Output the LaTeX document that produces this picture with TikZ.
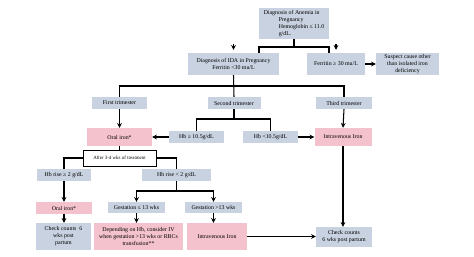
\documentclass[tikz,border=0pt]{standalone}
\usepackage{fontspec}
\setmainfont{Liberation Serif}
\usetikzlibrary{arrows.meta,calc}
\definecolor{boxblue}{RGB}{200,210,224}
\definecolor{boxpink}{RGB}{244,194,204}
\begin{document}
\begin{tikzpicture}[x=0.03cm,y=-0.03cm,
  every node/.style={font=\fontsize{5}{6}\selectfont,inner sep=1pt,align=center},
  bluebox/.style={fill=boxblue},
  pinkbox/.style={fill=boxpink},
  whitebox/.style={draw,line width=0.8pt,fill=white},
  link/.style={line width=0.9pt},
  arr/.style={link,-{Stealth[length=4pt,width=4pt]}}]
\useasboundingbox[fill=white] (0,0) rectangle (474,257);
\node[bluebox,minimum width=70*0.03cm,minimum height=31*0.03cm,align=left] (anemia) at (294,23.5) {Diagnosis of Anemia in\\\hspace*{0.45cm}Pregnancy\\\hspace*{0.45cm}Hemoglobin ≤ 11.0\\\hspace*{0.45cm}g/dL.};
\node[bluebox,minimum width=91*0.03cm,minimum height=22*0.03cm] (ida) at (233.5,64) {Diagnosis of IDA in Pregnancy\\Ferritin <30 mu/L};
\node[bluebox,minimum width=58*0.03cm,minimum height=22*0.03cm] (ferr) at (336,64) {Ferritin ≥ 30 mu/L};
\node[bluebox,minimum width=63*0.03cm,minimum height=22*0.03cm] (suspect) at (407.5,64) {Suspect cause other\\than isolated iron\\deficiency};
\node[bluebox,minimum width=55*0.03cm,minimum height=12*0.03cm] (first) at (119.5,103) {First trimester};
\node[bluebox,minimum width=53*0.03cm,minimum height=12*0.03cm] (second) at (234,103) {Second trimester};
\node[bluebox,minimum width=56*0.03cm,minimum height=12*0.03cm] (third) at (344,103) {Third trimester};
\node[bluebox,minimum width=55*0.03cm,minimum height=12*0.03cm] (hbhi) at (196.5,137) {Hb ≥ 10.5g/dL};
\node[bluebox,minimum width=55*0.03cm,minimum height=12*0.03cm] (hblo) at (270.5,137) {Hb <10.5g/dL};
\node[pinkbox,minimum width=65*0.03cm,minimum height=18*0.03cm] (oral) at (119.5,137) {Oral iron*};
\node[pinkbox,minimum width=57*0.03cm,minimum height=18*0.03cm] (ivtop) at (343,137) {Intravenous Iron};
\node[whitebox,minimum width=73*0.03cm,minimum height=16*0.03cm,font=\fontsize{4.2}{5}\selectfont] (after) at (119.5,158) {After 3-4 wks of treatment};
\node[bluebox,minimum width=54*0.03cm,minimum height=12*0.03cm] (risehi) at (64,175) {Hb rise ≥ 2 g/dL};
\node[bluebox,minimum width=69*0.03cm,minimum height=12*0.03cm] (riselo) at (176.5,175) {Hb rise < 2 g/dL};
\node[pinkbox,minimum width=56*0.03cm,minimum height=12*0.03cm] (oral2) at (64,208) {Oral iron*};
\node[bluebox,minimum width=55*0.03cm,minimum height=27*0.03cm] (check1) at (63.5,236.5) {Check counts\enspace 6\\wks post\\partum};
\node[bluebox,minimum width=57*0.03cm,minimum height=11*0.03cm] (gestle) at (136.5,207.5) {Gestation ≤ 13 wks};
\node[bluebox,minimum width=57*0.03cm,minimum height=11*0.03cm] (gestgt) at (213.5,207.5) {Gestation >13 wks};
\node[pinkbox,minimum width=89*0.03cm,minimum height=27*0.03cm] (depend) at (138.5,236.5) {Depending on Hb, consider IV\\when gestation >13 wks or RBCs\\transfusion**};
\node[pinkbox,minimum width=60*0.03cm,minimum height=27*0.03cm] (ivbot) at (217,236.5) {Intravenous Iron};
\node[bluebox,minimum width=56*0.03cm,minimum height=20*0.03cm] (check2) at (344,237) {Check counts\\6 wks post partum};
\coordinate (jtop) at (294,47);
\coordinate (jbus) at (234,86);
\coordinate (jsec) at (234,119);
\coordinate (jlo) at (176.5,191);
\draw[link] (anemia.south) -- (jtop);
\draw[link] ($(ida.north)+(25.5,0)$) |- (jtop) -| ($(ferr.north)+(-7,0)$);
\draw[arr] ($(ida.north)+(0,-9)$) -- ($(ida.north)+(0,-3)$);
\draw[arr] ($(ferr.north)+(0,-9)$) -- ($(ferr.north)+(0,-3)$);
\draw[arr] (ferr.east) -- (suspect.west);
\draw[link] (ida.south) -- (second.north);
\draw[link] (first.north) |- (jbus) -| (third.north);
\draw[arr] (first.south) -- (oral.north);
\draw[link] (second.south) -- (jsec);
\draw[link] (hbhi.north) |- (jsec) -| (hblo.north);
\draw[arr] (hbhi.west) -- (oral.east);
\draw[arr] (hblo.east) -- (ivtop.west);
\draw[arr] (third.south) -- (ivtop.north);
\draw[link] (oral.south) -- (after.north);
\draw[link] (after.west) -| (risehi.north);
\draw[link] (after.east) -| (riselo.north);
\draw[arr] (risehi.south) -- (oral2.north);
\draw[arr] (oral2.south) -- (oral2.south |- check1.north);
\draw[link] (riselo.south) -- (jlo);
\draw[arr] (jlo) -| (gestle.north);
\draw[arr] (jlo) -| (gestgt.north);
\draw[arr] (gestle.south) -- (gestle.south |- depend.north);
\draw[arr] (gestgt.south) -- (gestgt.south |- ivbot.north);
\draw[arr] (ivbot.east) -- (ivbot.east -| check2.west);
\draw[arr] (ivtop.south) -- (ivtop.south |- check2.north);
\end{tikzpicture}
\end{document}
